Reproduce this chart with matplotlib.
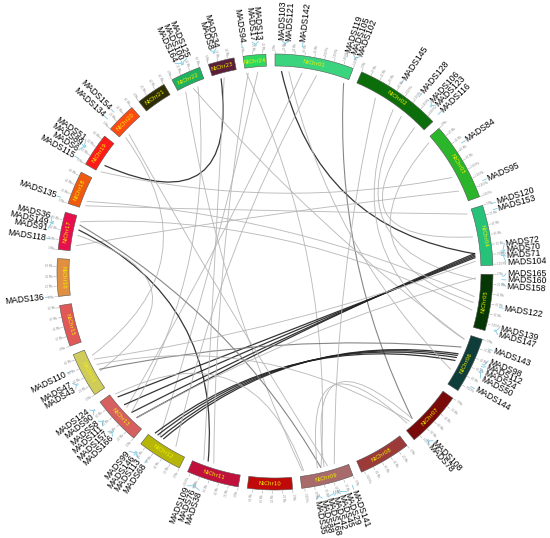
import numpy as np
import matplotlib.pyplot as plt
from matplotlib.patches import Polygon, PathPatch
from matplotlib.path import Path

# chromosomes (clockwise from top), lengths in Mb
chroms = ['NtChr%02d' % i for i in range(1, 25)]
chrom_len = [160, 175, 160, 122, 114, 114, 114, 106, 106, 91, 106, 91,
             99, 91, 84, 76, 76, 68, 68, 61, 61, 61, 53, 46]
chrom_colors = ['#3ad47f', '#0b6e0b', '#2ab52a', '#26c27a', '#063806', '#0f3d3a',
                '#7a0a0a', '#9c3a3a', '#a86a6a', '#c00a0a', '#c0103c', '#b5b50a',
                '#d66060', '#d0cc5a', '#e05858', '#e09040', '#e8104c', '#f05a10',
                '#ff1a1a', '#ff4a14', '#2e2e05', '#1fb060', '#5a1e38', '#2ed860']

# genes: name, chromosome number, position (Mb)
gene_names = ['MADS103', 'MADS121', 'MADS142', 'MADS119', 'MADS105', 'MADS102',
              'MADS145', 'MADS128', 'MADS106', 'MADS123', 'MADS116',
              'MADS84', 'MADS95',
              'MADS120', 'MADS153', 'MADS72', 'MADS70', 'MADS71', 'MADS104',
              'MADS165', 'MADS160', 'MADS158', 'MADS122', 'MADS139', 'MADS147',
              'MADS143', 'MADS98', 'MADS112', 'MADS24', 'MADS50', 'MADS144',
              'MADS108', 'MADS78',
              'MADS141', 'MADS29', 'MADS45', 'MADS42', 'MADS168', 'MADS88', 'MADS35',
              'MADS38', 'MADS76', 'MADS109',
              'MADS68', 'MADS113', 'MADS146', 'MADS99',
              'MADS166', 'MADS157', 'MADS111', 'MADS58', 'MADS90', 'MADS124',
              'MADS43', 'MADS47', 'MADS110',
              'MADS136',
              'MADS118', 'MADS91', 'MADS149', 'MADS36',
              'MADS135',
              'MADS115', 'MADS6', 'MADS89', 'MADS51',
              'MADS134', 'MADS154',
              'MADS164', 'MADS100', 'MADS125',
              'MADS8', 'MADS34',
              'MADS94', 'MADS17', 'MADS13']
gene_chr = [1, 1, 1, 1, 1, 1,
            2, 2, 2, 2, 2,
            3, 3,
            4, 4, 4, 4, 4, 4,
            5, 5, 5, 5, 5, 5,
            6, 6, 6, 6, 6, 6,
            7, 7,
            9, 9, 9, 9, 9, 9, 9,
            11, 11, 11,
            12, 12, 12, 12,
            13, 13, 13, 13, 13, 13,
            14, 14, 14,
            16,
            17, 17, 17, 17,
            18,
            19, 19, 19, 19,
            20, 20,
            22, 22, 22,
            23, 23,
            24, 24, 24]
gene_pos = [19, 20, 53, 141, 156, 157,
            79, 122, 150, 152, 172,
            50, 133,
            2, 14, 95, 98, 101, 104,
            3, 10, 18, 64, 108, 110,
            14, 46, 50, 55, 62, 94,
            93, 95,
            8, 34, 38, 42, 46, 74, 77,
            82, 84, 86,
            63, 86, 88, 90,
            38, 40, 65, 67, 92, 94,
            34, 36, 63,
            1,
            19, 48, 50, 52,
            7,
            3, 27, 29, 31,
            11, 29,
            30, 32, 34,
            16, 18,
            1, 26, 28]

# links: chrA, posA (Mb), chrB, posB (Mb), shade (0 light .. 2 dark)
link_a_chr = [23, 1, 1, 22, 22, 24, 24, 1, 2, 2, 3, 3, 4,
              13, 13, 13, 13, 12, 12, 12, 12,
              17, 17, 17, 14, 14, 13, 9, 9, 19, 20, 18, 22, 5, 6, 11,
              9, 7, 1, 2, 11, 5, 12]
link_a_pos = [17, 14, 152, 14, 32, 2, 27, 59, 119, 157, 9, 133, 8,
              24, 40, 63, 85, 59, 66, 74, 81,
              47, 58, 35, 40, 65, 93, 52, 67, 2, 8, 17, 43, 8, 12, 84,
              44, 96, 30, 50, 61, 79, 27]
link_b_chr = [19, 4, 7, 9, 6, 9, 12, 13, 5, 4, 5, 17, 18,
              4, 4, 4, 4, 6, 6, 6, 6,
              11, 9, 14, 6, 4, 9, 7, 7, 3, 14, 5, 13, 13, 2, 23,
              20, 14, 6, 9, 24, 17, 1]
link_b_pos = [18, 96, 88, 100, 12, 59, 68, 55, 11, 59, 62, 12, 7,
              95, 98, 101, 104, 46, 50, 55, 62,
              74, 59, 36, 30, 112, 97, 88, 103, 100, 74, 49, 40, 24, 96, 24,
              18, 52, 84, 29, 6, 65, 91]
link_shade = [2, 2, 1, 0, 0, 0, 0, 0, 0, 0, 0, 0, 0,
              2, 2, 2, 2, 2, 2, 2, 2,
              2, 1, 0, 1, 0, 0, 0, 0, 0, 0, 0, 0, 0, 0, 0,
              0, 0, 0, 0, 0, 0, 0]

label_font = ['Liberation Sans', 'DejaVu Sans']

cx, cy = 275, 272
r_out, r_in, r_link = 218, 206, 201
gap = 2.4
deg_per_mb = (360 - gap * len(chroms)) / sum(chrom_len)
starts = []
a = 0.0
for L in chrom_len:
    starts.append(a)
    a += L * deg_per_mb + gap


def ang(c, mb):
    return starts[c - 1] + mb * deg_per_mb


def xy(a_deg, r):
    t = np.radians(a_deg)
    return cx + r * np.sin(t), cy - r * np.cos(t)


fig = plt.figure(figsize=(5.5, 5.38), dpi=100)
ax = fig.add_axes([0, 0, 1, 1])
ax.set_xlim(0, 550)
ax.set_ylim(538, 0)
ax.axis('off')

# links
shade_col = ['#b4b4b4', '#7a7a7a', '#202020']
shade_lw = [0.65, 0.8, 0.9]
for i in range(len(link_a_chr)):
    a1 = ang(link_a_chr[i], link_a_pos[i])
    a2 = ang(link_b_chr[i], link_b_pos[i])
    p1 = xy(a1, r_link)
    p2 = xy(a2, r_link)
    d = (a2 - a1) % 360
    if d > 180:
        d -= 360
    mid = a1 + d / 2
    pc = xy(mid, r_link * 0.3)
    path = Path([p1, pc, p2], [Path.MOVETO, Path.CURVE3, Path.CURVE3])
    s = link_shade[i]
    ax.add_patch(PathPatch(path, fc='none', ec=shade_col[s], lw=shade_lw[s], alpha=0.9))

# chromosome bands, ticks, labels
for k, name in enumerate(chroms):
    a0 = starts[k]
    a1 = a0 + chrom_len[k] * deg_per_mb
    t = np.linspace(a0, a1, 40)
    pts = [xy(v, r_out) for v in t] + [xy(v, r_in) for v in t[::-1]]
    ax.add_patch(Polygon(pts, closed=True, fc=chrom_colors[k], ec='#555555', lw=0.4))
    amid = (a0 + a1) / 2
    rot = 180 - amid if 90 < amid < 270 else -amid
    x, y = xy(amid, (r_out + r_in) / 2)
    ax.text(x, y, name, color='#f2f200', fontsize=4, rotation=rot,
            ha='center', va='center', rotation_mode='anchor')
    for mb in range(0, chrom_len[k] + 1, 20):
        at = ang(k + 1, mb)
        xa, ya = xy(at, r_out + 1)
        xb, yb = xy(at, r_out + 3.5)
        ax.plot([xa, xb], [ya, yb], color='#aaaaaa', lw=0.4)
        xt, yt = xy(at, r_out + 4.5)
        if at < 180:
            ax.text(xt, yt, '%d Mb' % mb, fontsize=1.8, color='#8a8a8a',
                    rotation=90 - at, ha='left', va='center', rotation_mode='anchor')
        else:
            ax.text(xt, yt, '%d Mb' % mb, fontsize=1.8, color='#8a8a8a',
                    rotation=270 - at, ha='right', va='center', rotation_mode='anchor')

# gene labels, spread so they don't overlap
g_ang = np.array([ang(c, p) for c, p in zip(gene_chr, gene_pos)])
order = np.argsort(g_ang)
sep = 1.55
groups = [[i] for i in order]
changed = True
while changed:
    changed = False
    merged = [groups[0]]
    for g in groups[1:]:
        prev = merged[-1]
        pc_ = g_ang[prev].mean()
        gc_ = g_ang[g].mean()
        prev_end = pc_ + (len(prev) - 1) / 2 * sep
        g_start = gc_ - (len(g) - 1) / 2 * sep
        if g_start - prev_end < sep:
            merged[-1] = prev + g
            changed = True
        else:
            merged.append(g)
    groups = merged
lab_ang = np.zeros(len(g_ang))
for g in groups:
    c = g_ang[g].mean()
    for j, i in enumerate(g):
        lab_ang[i] = c + (j - (len(g) - 1) / 2) * sep

for i, name in enumerate(gene_names):
    ag, al = g_ang[i], lab_ang[i]
    x0, y0 = xy(ag, r_out + 9)
    x1, y1 = xy(ag, r_out + 11)
    x2, y2 = xy(al, r_out + 13)
    ax.plot([x0, x1, x2], [y0, y1, y2], color='#7ec8e3', lw=0.6)
    xt, yt = xy(al, r_out + 14)
    if al % 360 < 180:
        ax.text(xt, yt, name, fontsize=6.2, family=label_font, rotation=90 - al,
                ha='left', va='center', rotation_mode='anchor')
    else:
        ax.text(xt, yt, name, fontsize=6.2, family=label_font, rotation=270 - al,
                ha='right', va='center', rotation_mode='anchor')

fig.savefig('out.png', dpi=100, facecolor='white')
